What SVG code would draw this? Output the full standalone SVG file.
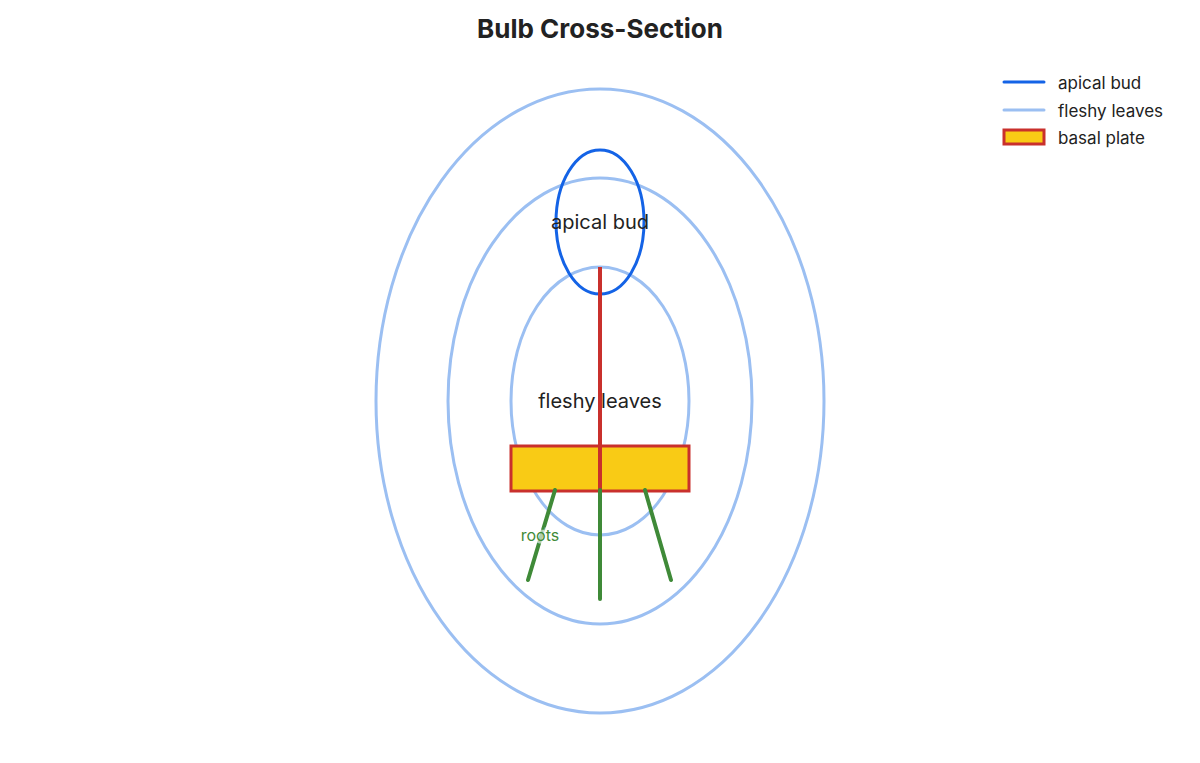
<svg xmlns="http://www.w3.org/2000/svg" width="1200" height="763" viewBox="0 0 1200 763">
<style>
text{font-family:Inter,"Noto Sans",sans-serif;fill:#222}
.leaf{fill:none;stroke:#9bbff2;stroke-width:3}
.bud{fill:none;stroke:#1463e6;stroke-width:3}
.root{stroke:#3f8a38;stroke-width:4;stroke-linecap:round}
</style>
<rect width="1200" height="763" fill="#fff"/>
<text x="600" y="38" text-anchor="middle" font-size="26" font-weight="700">Bulb Cross-Section</text>
<g id="fleshy-leaves">
<ellipse class="leaf" cx="600" cy="401" rx="224" ry="312"/>
<ellipse class="leaf" cx="600" cy="401" rx="152" ry="223"/>
<ellipse class="leaf" cx="600" cy="401" rx="89" ry="134"/>
<text x="600" y="408" text-anchor="middle" font-size="20">fleshy leaves</text>
</g>
<g id="apical-bud">
<ellipse class="bud" cx="600" cy="222" rx="44" ry="72"/>
<text x="600" y="229" text-anchor="middle" font-size="20">apical bud</text>
</g>
<g id="basal-plate">
<rect x="511" y="446" width="178" height="45" fill="#f9cb15" stroke="#c9302c" stroke-width="3"/>
</g>
<g id="connectors">
<line x1="600" y1="267" x2="600" y2="490" stroke="#c9302c" stroke-width="4"/>
<line class="root" x1="555" y1="490" x2="528" y2="580"/>
<line class="root" x1="600" y1="490" x2="600" y2="599"/>
<line class="root" x1="645" y1="490" x2="671" y2="580"/>
</g>
<g id="roots-label">
<text x="540" y="541" text-anchor="middle" font-size="16" style="fill:#3f8a38;stroke:#fff;stroke-opacity:0.6;stroke-width:5;paint-order:stroke">roots</text>
</g>
<g id="legend">
<line x1="1004" y1="82" x2="1044" y2="82" stroke="#1463e6" stroke-width="3" stroke-linecap="round"/>
<text x="1058" y="89" font-size="17">apical bud</text>
<line x1="1004" y1="110" x2="1044" y2="110" stroke="#9bbff2" stroke-width="3" stroke-linecap="round"/>
<text x="1058" y="117" font-size="17">fleshy leaves</text>
<rect x="1004" y="130" width="40" height="14" fill="#f9cb15" stroke="#c9302c" stroke-width="3"/>
<text x="1058" y="144" font-size="17">basal plate</text>
</g>
</svg>
